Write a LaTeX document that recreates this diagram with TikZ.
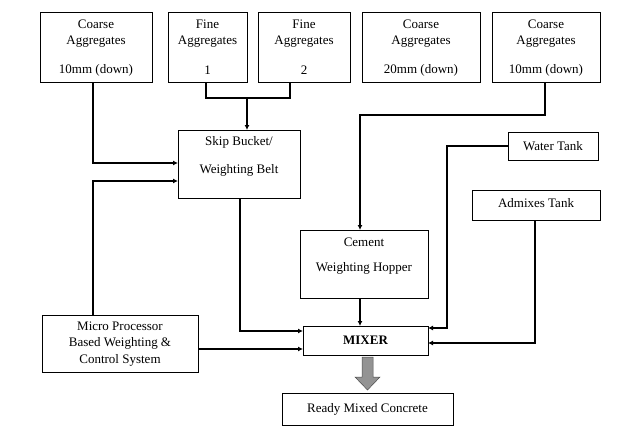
\documentclass[tikz,border=0pt]{standalone}
\usepackage{fontspec}
\setmainfont{Liberation Serif}
\usetikzlibrary{arrows.meta}
\newcommand\mybox[5]{\node[box,minimum width={(#4)-(#2)},minimum height={(#5)-(#3)}] (#1) at ({((#2)+(#4))/2},{((#3)+(#5))/2}) {};}
\begin{document}
\begin{tikzpicture}[x=1pt,y=-1pt,
  box/.style={draw,line width=0.6pt,inner sep=0pt,outer sep=0pt},
  txt/.style={font=\fontsize{13}{14}\selectfont,inner sep=0pt},
  ln/.style={line width=1.4pt},
  ar/.style={line width=1.4pt,-{Latex[length=5pt,width=5pt]}}]
\useasboundingbox (0,0) rectangle (643,437);
\mybox{c1}{40}{12}{152}{82}
\mybox{f1}{168}{12}{247}{82}
\mybox{f2}{258}{12}{350}{82}
\mybox{c2}{362}{12}{480}{82}
\mybox{c3}{492}{12}{600}{82}
\mybox{skip}{178}{130}{300}{198}
\mybox{water}{508}{132}{598}{160}
\mybox{admix}{472}{190}{600}{220}
\mybox{cement}{300}{230}{428}{298}
\mybox{micro}{42}{315}{198}{372}
\mybox{mixer}{303}{326}{428}{355}
\mybox{ready}{282}{393}{453}{425}
\node[txt] at (96,24) {Coarse};
\node[txt] at (96,42) {Aggregates};
\node[txt] at (96,70) {10mm (down)};
\node[txt] at (207.5,24) {Fine};
\node[txt] at (207.5,42) {Aggregates};
\node[txt] at (207.5,70) {1};
\node[txt] at (304,24) {Fine};
\node[txt] at (304,42) {Aggregates};
\node[txt] at (304,70) {2};
\node[txt] at (421,24) {Coarse};
\node[txt] at (421,42) {Aggregates};
\node[txt] at (421,70) {20mm (down)};
\node[txt] at (546,24) {Coarse};
\node[txt] at (546,42) {Aggregates};
\node[txt] at (546,70) {10mm (down)};
\node[txt] at (239,142) {Skip Bucket/};
\node[txt] at (239,170) {Weighting Belt};
\node[txt] at (553,146) {Water Tank};
\node[txt] at (536,203) {Admixes Tank};
\node[txt] at (364,242) {Cement};
\node[txt] at (364,268) {Weighting Hopper};
\node[txt] at (120,326) {Micro Processor};
\node[txt] at (120,343) {Based Weighting \&};
\node[txt] at (120,360) {Control System};
\node[txt,font=\fontsize{13}{14}\selectfont\bfseries] at (365.5,340.5) {MIXER};
\node[txt] at (367.5,409) {Ready Mixed Concrete};
% connectors
\draw[ar] (c1.south -| 93,0) |- (skip.west |- 0,163);
\draw[ln] (f1.south -| 206,0) |- (290,98) -- (f2.south -| 290,0);
\draw[ar] (247,98) -- (skip.north -| 247,0);
\draw[ar] (c3.south -| 545,0) |- (360,115) -- (cement.north -| 360,0);
\draw[ar] (water.west) -| (447,328) -- (mixer.east |- 0,328);
\draw[ar] (admix.south -| 535,0) |- (mixer.east |- 0,343);
\draw[ar] (skip.south -| 240,0) |- (mixer.west |- 0,331);
\draw[ar] (micro.north -| 93,0) |- (skip.west |- 0,181);
\draw[ar] (micro.east |- 0,349) -- (mixer.west |- 0,349);
\draw[ar] (cement.south -| 360,0) -- (mixer.north -| 360,0);
\draw[fill=gray!85,draw=gray!60!black,line width=0.5pt] (362,357) -- (373,357) -- (373,377) -- (380,377) -- (367.5,390) -- (355,377) -- (362,377) -- cycle;
\end{tikzpicture}
\end{document}
